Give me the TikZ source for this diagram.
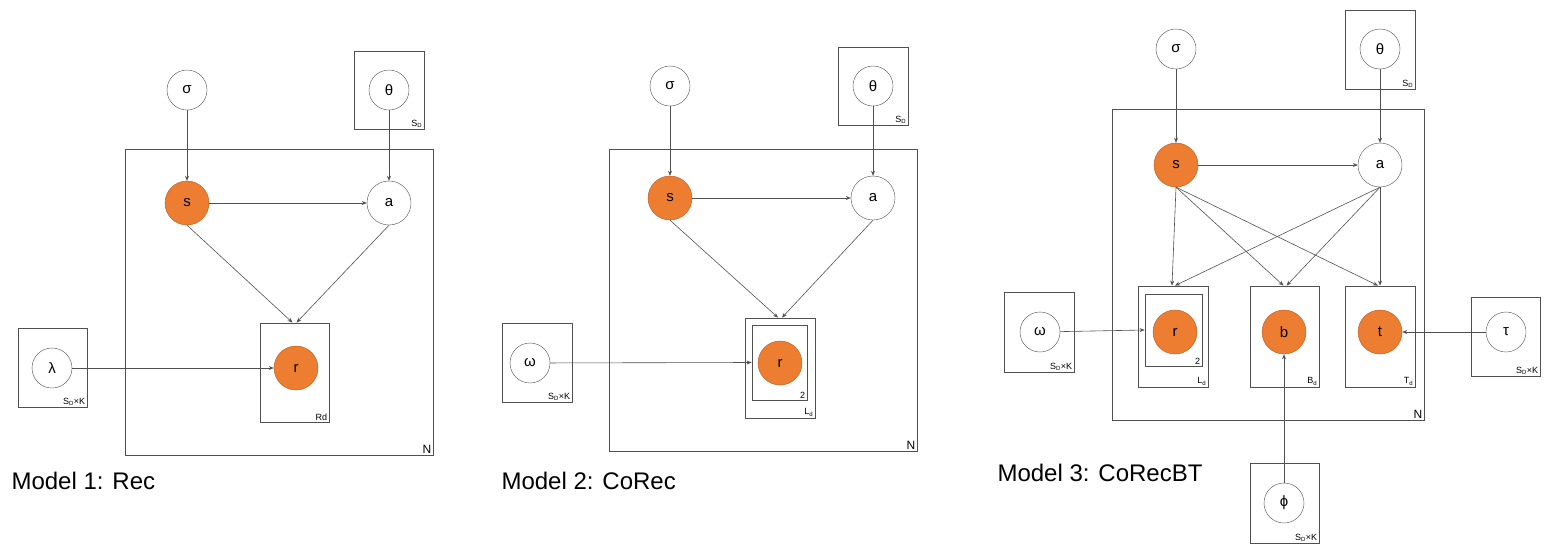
\documentclass[tikz,border=0pt]{standalone}
\usepackage{fontspec}
\setmainfont{Liberation Sans}
\usetikzlibrary{arrows.meta}
\definecolor{obs}{HTML}{ED7D31}
\definecolor{obsd}{HTML}{B85A1C}
\definecolor{ln}{HTML}{505050}
\begin{document}
\begin{tikzpicture}[x=1pt,y=-1pt,
  var/.style={circle,draw=ln,fill=white,minimum size=40pt,inner sep=0pt,font=\fontsize{15}{15}\selectfont},
  ovar/.style={var,fill=obs,draw=obsd,minimum size=44pt},
  plate/.style={draw=ln,line width=0.8pt,inner sep=0pt},
  plab/.style={anchor=south east,inner sep=2pt,font=\fontsize{9}{9}\selectfont},
  edge/.style={draw=ln,line width=0.6pt,-{Stealth[length=5pt,width=4pt]}},
  title/.style={anchor=west,font=\fontsize{24}{24}\selectfont}]
\useasboundingbox (0,0) rectangle (1550,547);
% ---------- Model 1
\node[plate,minimum width=308pt,minimum height=306pt] (N1) at (279,302) {};
\node[plab,font=\fontsize{12}{12}\selectfont] at (N1.south east) {N};
\node[plate,minimum width=70pt,minimum height=78pt] (T1) at (389,90) {};
\node[plab] at (T1.south east) {S$_\mathrm{D}$};
\node[plate,minimum width=69pt,minimum height=99pt] (R1) at (294.5,372.5) {};
\node[plab] at (R1.south east) {Rd};
\node[plate,minimum width=69pt,minimum height=79pt] (L1) at (52.5,367.5) {};
\node[plab] at (L1.south east) {S$_\mathrm{D}$×K};
\node[var] (sig1) at (187,90) {σ};
\node[var] (th1) at (389,90) {θ};
\node[ovar] (s1) at (187,203) {s};
\node[var,minimum size=44pt] (a1) at (389,203) {a};
\node[ovar] (r1) at (296,368) {r};
\node[var] (lam1) at (52,368) {λ};
\draw[edge] (sig1) -- (s1);
\draw[edge] (th1) -- (a1);
\draw[edge] (s1) -- (a1);
\draw[edge] (s1.south) -- ([xshift=-2pt]R1.north);
\draw[edge] (a1.south) -- ([xshift=2pt]R1.north);
\draw[edge] (lam1) -- (r1);
\node[title] (t1) at (8,481) {Model 1: Rec};
% ---------- Model 2
\node[plate,minimum width=308pt,minimum height=302pt] (N2) at (763,300) {};
\node[plab,font=\fontsize{12}{12}\selectfont] at (N2.south east) {N};
\node[plate,minimum width=70pt,minimum height=78pt] (T2) at (873,86) {};
\node[plab] at (T2.south east) {S$_\mathrm{D}$};
\node[plate,minimum width=70pt,minimum height=100pt] (LB2) at (780,368) {};
\node[plab] at (LB2.south east) {L$_\mathrm{d}$};
\node[plate,minimum width=55pt,minimum height=75pt] (IB2) at (779.5,362.5) {};
\node[plab] at (IB2.south east) {2};
\node[plate,minimum width=70pt,minimum height=79pt] (W2) at (537,362.5) {};
\node[plab] at (W2.south east) {S$_\mathrm{D}$×K};
\node[var] (sig2) at (670,86) {σ};
\node[var] (th2) at (873,86) {θ};
\node[ovar] (s2) at (670,198) {s};
\node[var,minimum size=44pt] (a2) at (873,198) {a};
\node[ovar] (r2) at (780,363) {r};
\node[var] (om2) at (530,363) {ω};
\draw[edge] (sig2) -- (s2);
\draw[edge] (th2) -- (a2);
\draw[edge] (s2) -- (a2);
\draw[edge] (s2.south) -- ([xshift=-2pt]LB2.north);
\draw[edge] (a2.south) -- ([xshift=2pt]LB2.north);
\draw[edge] (om2) -- (IB2.west);
\node[title] (t2) at (498,481) {Model 2: CoRec};
% ---------- Model 3
\node[plate,minimum width=312pt,minimum height=311pt] (N3) at (1268,264.5) {};
\node[plab,font=\fontsize{12}{12}\selectfont] at (N3.south east) {N};
\node[plate,minimum width=70pt,minimum height=79pt] (T3) at (1380,49.5) {};
\node[plab] at (T3.south east) {S$_\mathrm{D}$};
\node[plate,minimum width=70pt,minimum height=101pt] (LB3) at (1173,336.5) {};
\node[plab] at (LB3.south east) {L$_\mathrm{d}$};
\node[plate,minimum width=57pt,minimum height=72pt] (IB3) at (1173.5,330) {};
\node[plab] at (IB3.south east) {2};
\node[plate,minimum width=69pt,minimum height=101pt] (BB3) at (1284.5,336.5) {};
\node[plab] at (BB3.south east) {B$_\mathrm{d}$};
\node[plate,minimum width=70pt,minimum height=101pt] (TB3) at (1380,336.5) {};
\node[plab] at (TB3.south east) {T$_\mathrm{d}$};
\node[plate,minimum width=70pt,minimum height=80pt] (W3) at (1039,332) {};
\node[plab] at (W3.south east) {S$_\mathrm{D}$×K};
\node[plate,minimum width=69pt,minimum height=79pt] (U3) at (1505.5,336.5) {};
\node[plab] at (U3.south east) {S$_\mathrm{D}$×K};
\node[plate,minimum width=69pt,minimum height=80pt] (P3) at (1284.5,503) {};
\node[plab] at (P3.south east) {S$_\mathrm{D}$×K};
\node[var] (sig3) at (1176,49) {σ};
\node[var] (th3) at (1380,49) {θ};
\node[ovar] (s3) at (1176,165) {s};
\node[var,minimum size=44pt] (a3) at (1380,165) {a};
\node[ovar] (r3) at (1175,332) {r};
\node[ovar] (b3) at (1284,332) {b};
\node[ovar] (tt3) at (1380,332) {t};
\node[var] (om3) at (1040,332) {ω};
\node[var] (tau3) at (1506,332) {τ};
\node[var] (phi3) at (1284,503) {ϕ};
\draw[edge] (sig3) -- (s3);
\draw[edge] (th3) -- (a3);
\draw[edge] (s3) -- (a3);
\draw[edge] (s3.south) -- ([xshift=-1pt]LB3.north);
\draw[edge] (s3.south) -- ([xshift=-1pt]BB3.north);
\draw[edge] (s3.south) -- ([xshift=-2pt]TB3.north);
\draw[edge] (a3.south) -- ([xshift=2pt]LB3.north);
\draw[edge] (a3.south) -- ([xshift=2pt]BB3.north);
\draw[edge] (a3.south) -- (TB3.north);
\draw[edge] (om3) -- (IB3.west);
\draw[edge] (tau3) -- (tt3);
\draw[edge] (phi3) -- (b3);
\node[title] (t3) at (994,473) {Model 3: CoRecBT};
\end{tikzpicture}
\end{document}
